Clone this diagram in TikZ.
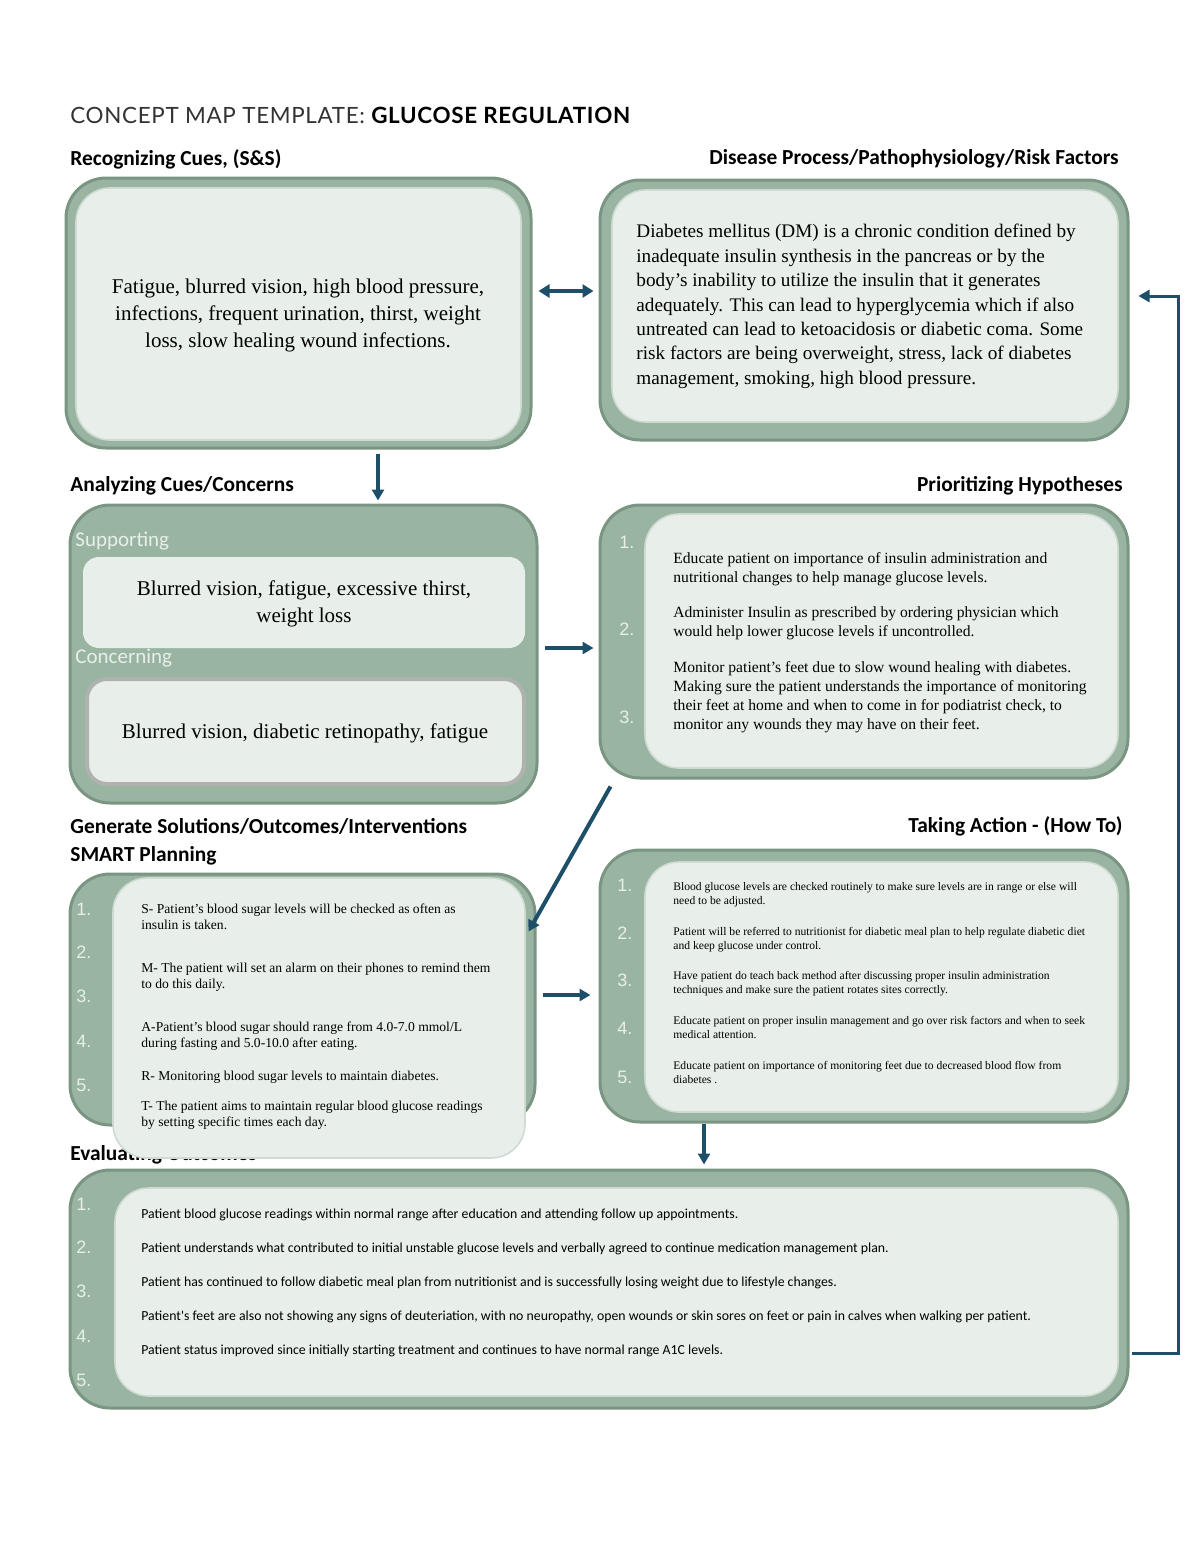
\documentclass[tikz,border=0pt]{standalone}
\usepackage{fontspec}
\setmainfont{Liberation Serif}
\newfontfamily\hdfont{Carlito}
\newfontfamily\titlefont[LetterSpace=3]{Lato}
\newfontfamily\numfont{Liberation Sans}
\usetikzlibrary{fit,arrows.meta,calc}
\definecolor{sage}{HTML}{99B5A1}
\definecolor{sageborder}{HTML}{7A9682}
\definecolor{pale}{HTML}{E8EFEA}
\definecolor{paleedge}{HTML}{CFDBD2}
\definecolor{arrowblue}{HTML}{1D4F69}
\definecolor{greyb}{HTML}{B0B2B0}
\definecolor{titlegrey}{HTML}{333333}
\tikzset{
  outerbox/.style={draw=sageborder, line width=1.5pt, fill=sage, rounded corners=20pt, inner sep=0pt},
  innerbox/.style={draw=paleedge, line width=0.8pt, fill=pale, rounded corners=17pt, inner sep=0pt},
  subbox/.style={fill=pale, rounded corners=8pt, inner sep=0pt},
  conbox/.style={draw=greyb, line width=2pt, fill=pale, rounded corners=10pt, inner sep=0pt},
  heading/.style={font=\hdfont\bfseries\fontsize{10.7}{12}\selectfont, inner sep=0pt},
  lbl/.style={font=\hdfont\fontsize{10.5}{12}\selectfont, text=pale, inner sep=0pt, anchor=west},
  num/.style={font=\numfont\fontsize{9}{10}\selectfont, text=pale, inner sep=0pt, anchor=west},
  conn/.style={draw=arrowblue, line width=2pt, -{Triangle[length=5.5pt,width=6pt]}},
  conn2/.style={draw=arrowblue, line width=2pt, {Triangle[length=5.5pt,width=6.5pt]}-{Triangle[length=5.5pt,width=6.5pt]}},
  conn3/.style={draw=arrowblue, line width=1.5pt, -{Triangle[length=5.5pt,width=6pt]}},
  bodyc/.style={align=center, inner sep=0pt, font=\fontsize{10.5}{13.5}\selectfont},
  p2/.style={align=left, inner sep=0pt, anchor=north west, font=\fontsize{9.6}{12.2}\selectfont},
  p4/.style={align=left, inner sep=0pt, anchor=north west, font=\fontsize{7.8}{9.6}\selectfont},
  p5/.style={align=left, inner sep=0pt, anchor=north west, font=\fontsize{6.8}{8}\selectfont},
  p6/.style={align=left, inner sep=0pt, anchor=north west, font=\fontsize{5.8}{7.2}\selectfont},
  p7/.style={align=left, inner sep=0pt, anchor=north west, font=\hdfont\fontsize{6.9}{17}\selectfont},
}
\begin{document}
\begin{tikzpicture}[x=0.5pt,y=-0.5pt]
\useasboundingbox[fill=white] (0,0) rectangle (1200,1553);

% title
\node[anchor=west, inner sep=0pt, font=\titlefont\fontsize{11.2}{13}\selectfont] (title) at (70,115)
  {\textcolor{titlegrey}{CONCEPT MAP TEMPLATE:} \textbf{GLUCOSE REGULATION}};

% headings
\node[heading, anchor=west] (h1) at (70,159) {Recognizing Cues, (S\&S)};
\node[heading, anchor=east] (h2) at (1119,159) {Disease Process/Pathophysiology/Risk Factors};
\node[heading, anchor=west] (h3) at (70,486) {Analyzing Cues/Concerns};
\node[heading, anchor=east] (h4) at (1123,486) {Prioritizing Hypotheses};
\node[heading, anchor=west] (h5) at (70,826) {Generate Solutions/Outcomes/Interventions};
\node[heading, anchor=west] (h5b) at (70,856) {SMART Planning};
\node[heading, anchor=east] (h6) at (1123,826) {Taking Action - (How To)};
\node[heading, anchor=west] (h7) at (70,1155) {Evaluating Outcomes};

% Box 1
\node[outerbox, fit={(66,178)(531,448)}] (b1) {};
\node[innerbox, fit={(76,188)(521,440)}] (i1) {};
\node[bodyc] (t1) at (298,315) {Fatigue, blurred vision, high blood pressure,\\ infections, frequent urination, thirst, weight\\ loss, slow healing wound infections.};

% Box 2
\node[outerbox, fit={(600,180)(1128,440)}] (b2) {};
\node[innerbox, fit={(612,190)(1118,422)}] (i2) {};
\node[p2] (t2) at (636,224) {Diabetes mellitus (DM) is a chronic condition defined by\\
inadequate insulin synthesis in the pancreas or by the\\
body's inability to utilize the insulin that it generates\\
adequately. This can lead to hyperglycemia which if also\\
untreated can lead to ketoacidosis or diabetic coma. Some\\
risk factors are being overweight, stress, lack of diabetes\\
management, smoking, high blood pressure.};

% Box 3
\node[outerbox, fit={(70,505)(537,803)}] (b3) {};
\node[lbl] (l3a) at (75,541) {Supporting};
\node[subbox, fit={(83,557)(525,648)}] (s3a) {};
\node[bodyc] (t3a) at (304,603.5) {Blurred vision, fatigue, excessive thirst,\\ weight loss};
\node[lbl] (l3b) at (75,658) {Concerning};
\node[conbox, fit={(87,679)(524,784)}] (s3b) {};
\node[bodyc] (t3b) at (305,733) {Blurred vision, diabetic retinopathy, fatigue};

% Box 4
\node[outerbox, fit={(600,505)(1128,778)}] (b4) {};
\node[innerbox, fit={(645,514)(1118,768)}] (i4) {};
\node[num] (n4a) at (619,542) {1.};
\node[num] (n4b) at (619,629) {2.};
\node[num] (n4c) at (619,717) {3.};
\node[p4] (t4a) at (673,552) {Educate patient on importance of insulin administration and\\ nutritional changes to help manage glucose levels.};
\node[p4] (t4b) at (673,606) {Administer Insulin as prescribed by ordering physician which\\ would help lower glucose levels if uncontrolled.};
\node[p4] (t4c) at (673,661) {Monitor patient’s feet due to slow wound healing with diabetes.\\ Making sure the patient understands the importance of monitoring\\ their feet at home and when to come in for podiatrist check, to\\ monitor any wounds they may have on their feet.};

% Box 5 outer (inner drawn later, over heading)
\node[outerbox, fit={(70,874)(535,1125)}] (b5) {};
\node[num] (n5a) at (76,909) {1.};
\node[num] (n5b) at (76,952) {2.};
\node[num] (n5c) at (76,996) {3.};
\node[num] (n5d) at (76,1041) {4.};
\node[num] (n5e) at (76,1085) {5.};
\node[innerbox, fit={(113,878)(525,1158)}] (i5) {};
\node[p5] (t5a) at (141,904) {S- Patient’s blood sugar levels will be checked as often as\\ insulin is taken.};
\node[p5] (t5b) at (141,963) {M- The patient will set an alarm on their phones to remind them\\ to do this daily.};
\node[p5] (t5c) at (141,1022) {A-Patient’s blood sugar should range from 4.0-7.0 mmol/L\\ during fasting and 5.0-10.0 after eating.};
\node[p5] (t5d) at (141,1071) {R- Monitoring blood sugar levels to maintain diabetes.};
\node[p5] (t5e) at (141,1101) {T- The patient aims to maintain regular blood glucose readings\\ by setting specific times each day.};

% Box 6
\node[outerbox, fit={(600,850)(1128,1122)}] (b6) {};
\node[innerbox, fit={(645,862)(1118,1112)}] (i6) {};
\node[num] (n6a) at (617,885) {1.};
\node[num] (n6b) at (617,933) {2.};
\node[num] (n6c) at (617,980) {3.};
\node[num] (n6d) at (617,1028) {4.};
\node[num] (n6e) at (617,1077) {5.};
\node[p6] (t6a) at (673,882) {Blood glucose levels are checked routinely to make sure levels are in range or else will\\ need to be adjusted.};
\node[p6] (t6b) at (673,927) {Patient will be referred to nutritionist for diabetic meal plan to help regulate diabetic diet\\ and keep glucose under control.};
\node[p6] (t6c) at (673,971) {Have patient do teach back method after discussing proper insulin administration\\ techniques and make sure the patient rotates sites correctly.};
\node[p6] (t6d) at (673,1016) {Educate patient on proper insulin management and go over risk factors and when to seek\\ medical attention.};
\node[p6] (t6e) at (673,1061) {Educate patient on importance of monitoring feet due to decreased blood flow from\\ diabetes .};

% Box 7
\node[outerbox, fit={(70,1170)(1128,1408)}] (b7) {};
\node[innerbox, fit={(115,1188)(1118,1396)}] (i7) {};
\node[num] (n7a) at (76,1204) {1.};
\node[num] (n7b) at (76,1247) {2.};
\node[num] (n7c) at (76,1291) {3.};
\node[num] (n7d) at (76,1336) {4.};
\node[num] (n7e) at (76,1380) {5.};
\node[p7] (t7) at (141,1209) {Patient blood glucose readings within normal range after education and attending follow up appointments.\\
Patient understands what contributed to initial unstable glucose levels and verbally agreed to continue medication management plan.\\
Patient has continued to follow diabetic meal plan from nutritionist and is successfully losing weight due to lifestyle changes.\\
Patient's feet are also not showing any signs of deuteriation, with no neuropathy, open wounds or skin sores on feet or pain in calves when walking per patient.\\
Patient status improved since initially starting treatment and continues to have normal range A1C levels.};

% connectors
\draw[conn2] ($(b1.east)+(6,-22)$) -- ($(b2.west)+(-5,-19)$);
\draw[conn] ($(b1.south)+(79.5,4)$) -- ($(b3.north)+(74.5,-3)$);
\draw[conn] ($(b3.east)+(6,-6)$) -- ($(b4.west)+(-5,6.5)$);
\draw[conn] ($(b4.south west)+(12,7)$) -- ($(b5.north east)+(-8,59)$);
\draw[conn] ($(b5.east)+(6,-4.5)$) -- ($(b6.west)+(-8,9)$);
\draw[conn] ($(b6.south)+(-160,0)$) -- ($(b7.north)+(105,-4)$);
\draw[conn3] ($(b7.east)+(2,64)$) -- ++(47,0) |- ($(b2.east)+(9,-14)$);
\end{tikzpicture}
\end{document}
